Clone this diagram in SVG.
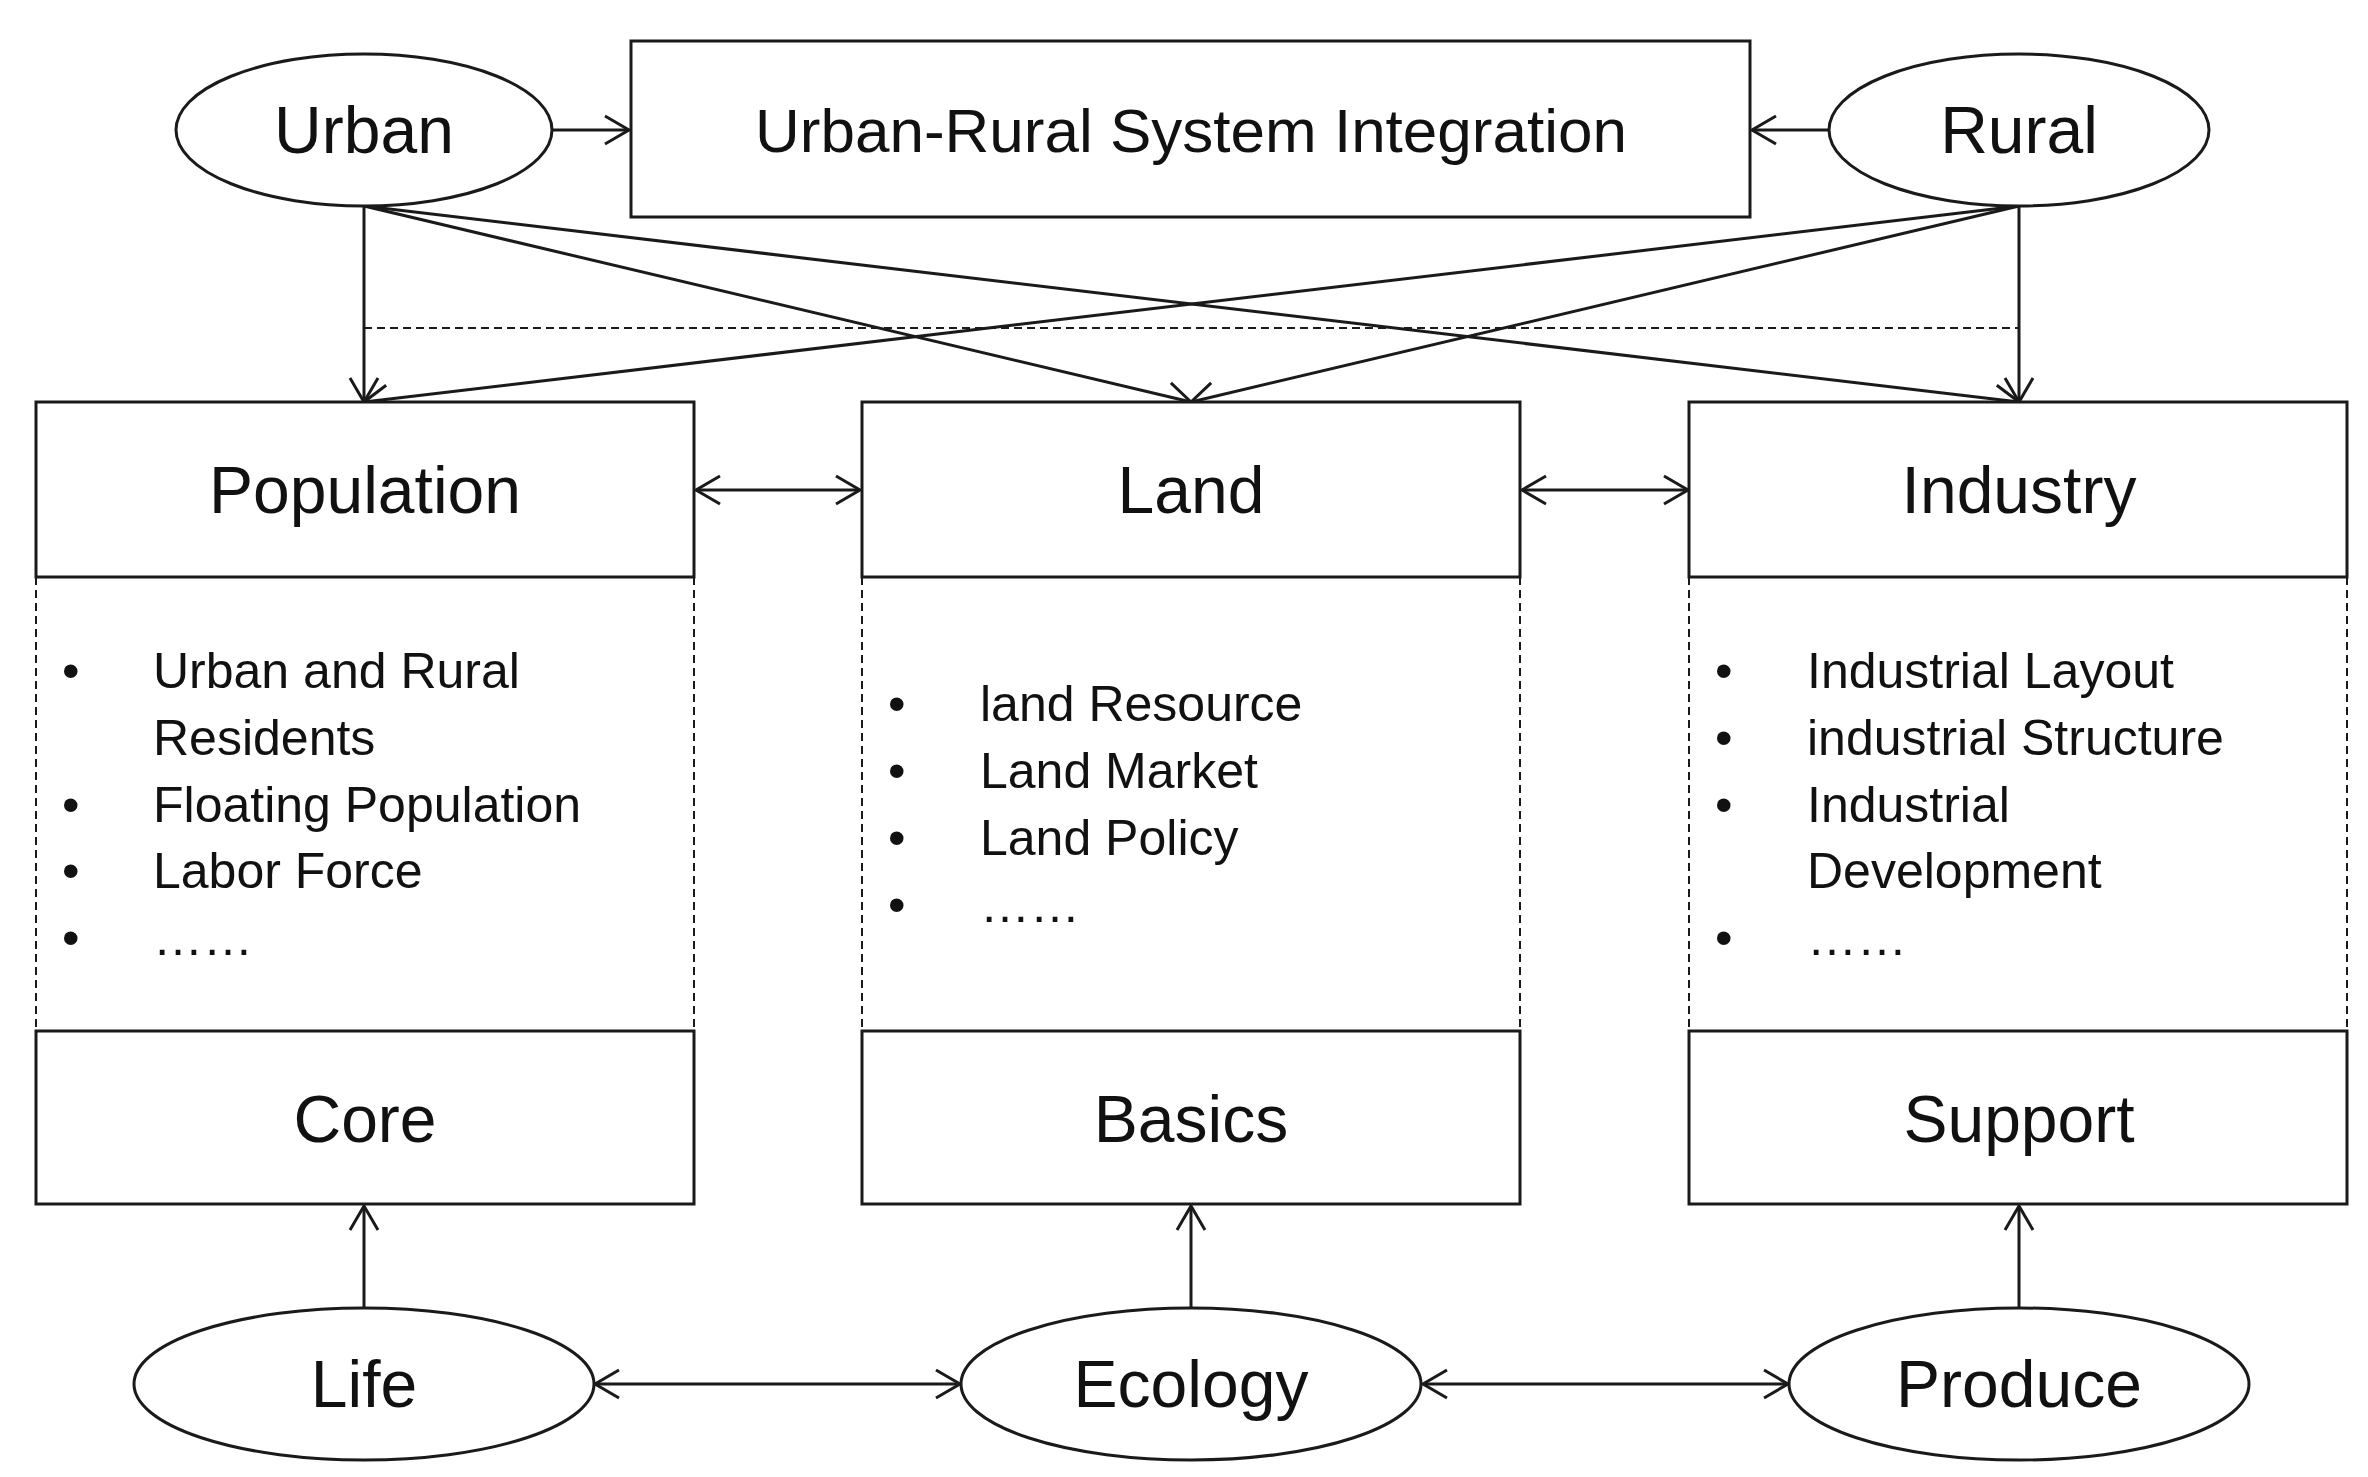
<svg xmlns="http://www.w3.org/2000/svg" width="2368" height="1477" viewBox="0 0 2368 1477">
<style>
.s{fill:#fff;stroke:#1a1a1a;stroke-width:3}
.d{fill:none;stroke:#1a1a1a;stroke-width:2;stroke-dasharray:8 5}
.c{fill:none;stroke:#1a1a1a;stroke-width:3}
.t{font-family:"Liberation Sans",Arial,sans-serif;fill:#111;text-anchor:middle}
.big{font-size:66px}
.l{font-family:"Liberation Sans",Arial,sans-serif;fill:#111;font-size:50px}
</style>
<defs>
<marker id="a" markerUnits="userSpaceOnUse" markerWidth="40" markerHeight="40" refX="30" refY="20" orient="auto-start-reverse" viewBox="0 0 40 40">
<path d="M6,6 L30,20 L6,34" fill="none" stroke="#1a1a1a" stroke-width="3"/>
</marker>
</defs>
<rect width="2368" height="1477" fill="#fff"/>
<g id="connectors">
<line class="c" x1="552" y1="130" x2="629" y2="130" marker-end="url(#a)"/>
<line class="c" x1="1829" y1="130" x2="1752" y2="130" marker-end="url(#a)"/>
<line class="c" x1="364" y1="206" x2="364" y2="402" marker-end="url(#a)"/>
<line class="c" x1="364" y1="206" x2="1191" y2="402" marker-end="url(#a)"/>
<line class="c" x1="364" y1="206" x2="2019" y2="402" marker-end="url(#a)"/>
<line class="c" x1="2019" y1="206" x2="2019" y2="402" marker-end="url(#a)"/>
<line class="c" x1="2019" y1="206" x2="1191" y2="402" marker-end="url(#a)"/>
<line class="c" x1="2019" y1="206" x2="364" y2="402" marker-end="url(#a)"/>
<line class="d" x1="364" y1="328" x2="2019" y2="328"/>
<line class="c" x1="696" y1="490" x2="860" y2="490" marker-start="url(#a)" marker-end="url(#a)"/>
<line class="c" x1="1522" y1="490" x2="1688" y2="490" marker-start="url(#a)" marker-end="url(#a)"/>
<line class="c" x1="364" y1="1308" x2="364" y2="1206" marker-end="url(#a)"/>
<line class="c" x1="1191" y1="1308" x2="1191" y2="1206" marker-end="url(#a)"/>
<line class="c" x1="2019" y1="1308" x2="2019" y2="1206" marker-end="url(#a)"/>
<line class="c" x1="595" y1="1384" x2="960" y2="1384" marker-start="url(#a)" marker-end="url(#a)"/>
<line class="c" x1="1423" y1="1384" x2="1788" y2="1384" marker-start="url(#a)" marker-end="url(#a)"/>
</g>
<g id="urban"><ellipse class="s" cx="364" cy="130" rx="188" ry="76"/><text class="t big" x="364" y="153">Urban</text></g>
<g id="integration"><rect class="s" x="631" y="41" width="1119" height="176"/><text class="t" style="font-size:62px" x="1191" y="152">Urban-Rural System Integration</text></g>
<g id="rural"><ellipse class="s" cx="2019" cy="130" rx="190" ry="76"/><text class="t big" x="2019" y="153">Rural</text></g>

<g id="population">
<rect class="s" x="36" y="402" width="658" height="802" style="stroke:none"/>
<rect class="s" x="36" y="402" width="658" height="175"/>
<line class="d" x1="36" y1="577" x2="36" y2="1031"/><line class="d" x1="694" y1="577" x2="694" y2="1031"/>
<rect class="s" x="36" y="1031" width="658" height="173"/>
<text class="t big" x="365" y="513">Population</text>
<text class="t big" x="365" y="1142">Core</text>
<g class="l">
<text x="62" y="688">•</text><text x="153" y="688">Urban and Rural</text>
<text x="153" y="755">Residents</text>
<text x="62" y="822">•</text><text x="153" y="822">Floating Population</text>
<text x="62" y="888">•</text><text x="153" y="888">Labor Force</text>
<text x="62" y="955">•</text><text x="153" y="955">……</text>
</g>
</g>

<g id="land">
<rect class="s" x="862" y="402" width="658" height="175"/>
<line class="d" x1="862" y1="577" x2="862" y2="1031"/><line class="d" x1="1520" y1="577" x2="1520" y2="1031"/>
<rect class="s" x="862" y="1031" width="658" height="173"/>
<text class="t big" x="1191" y="513">Land</text>
<text class="t big" x="1191" y="1142">Basics</text>
<g class="l">
<text x="888" y="721">•</text><text x="980" y="721">land Resource</text>
<text x="888" y="788">•</text><text x="980" y="788">Land Market</text>
<text x="888" y="855">•</text><text x="980" y="855">Land Policy</text>
<text x="888" y="922">•</text><text x="980" y="922">……</text>
</g>
</g>

<g id="industry">
<rect class="s" x="1689" y="402" width="658" height="175"/>
<line class="d" x1="1689" y1="577" x2="1689" y2="1031"/><line class="d" x1="2347" y1="577" x2="2347" y2="1031"/>
<rect class="s" x="1689" y="1031" width="658" height="173"/>
<text class="t big" x="2019" y="513">Industry</text>
<text class="t big" x="2019" y="1142">Support</text>
<g class="l">
<text x="1715" y="688">•</text><text x="1807" y="688">Industrial Layout</text>
<text x="1715" y="755">•</text><text x="1807" y="755">industrial Structure</text>
<text x="1715" y="822">•</text><text x="1807" y="822">Industrial</text>
<text x="1807" y="888">Development</text>
<text x="1715" y="955">•</text><text x="1807" y="955">……</text>
</g>
</g>

<g id="life"><ellipse class="s" cx="364" cy="1384" rx="230" ry="76"/><text class="t big" x="364" y="1407">Life</text></g>
<g id="ecology"><ellipse class="s" cx="1191" cy="1384" rx="230" ry="76"/><text class="t big" x="1191" y="1407">Ecology</text></g>
<g id="produce"><ellipse class="s" cx="2019" cy="1384" rx="230" ry="76"/><text class="t big" x="2019" y="1407">Produce</text></g>
</svg>
